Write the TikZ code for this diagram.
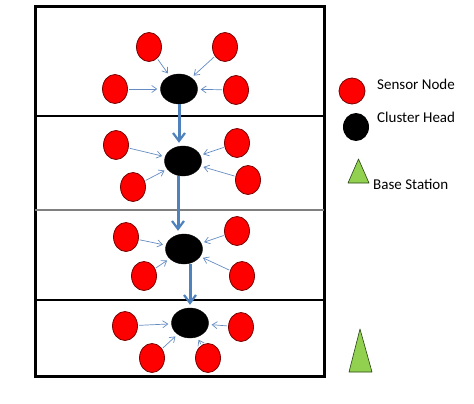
\documentclass[tikz,border=0pt]{standalone}
\usepackage{fontspec}
\setmainfont{Carlito}
\usetikzlibrary{shapes.geometric,arrows.meta}
\definecolor{thinblue}{RGB}{100,140,195}
\definecolor{thickblue}{RGB}{79,129,189}
\definecolor{sred}{RGB}{255,0,0}
\definecolor{sedge}{RGB}{120,0,0}
\definecolor{bsgreen}{RGB}{146,208,80}
\definecolor{bsedge}{RGB}{40,70,20}
\begin{document}
\begin{tikzpicture}[x=1pt,y=-1pt,
  sensor/.style={ellipse,fill=sred,draw=sedge,line width=0.8pt,minimum width=25pt,minimum height=29pt,inner sep=0pt},
  chead/.style={ellipse,fill=black,draw=black,minimum width=37pt,minimum height=30pt,inner sep=0pt},
  bstation/.style={fill=bsgreen,draw=bsedge,line width=0.6pt,line join=round},
  link/.style={draw=thinblue,line width=0.7pt,-{Straight Barb[length=5pt,width=7pt]},shorten >=3pt,shorten <=1pt},
  hop/.style={draw=thickblue,line width=3pt,-{Straight Barb[length=8pt,width=12pt,line width=2.2pt]},shorten >=3pt},
  divider/.style={line width=1.3pt},
  legtext/.style={anchor=west,font=\fontsize{15}{17}\selectfont,inner sep=0pt}]
\useasboundingbox (0,0) rectangle (474,404);
% frame
\draw[line width=3pt] (35,7) rectangle (324,376);
\draw[divider] (35,116) -- (324,116);
\draw[divider,draw=gray] (35,210) -- (324,210);
\draw[divider] (35,300) -- (324,300);
% cluster heads
\node[chead] (ch1) at (179,89) {};
\node[chead] (ch2) at (183,161) {};
\node[chead] (ch3) at (184,249) {};
\node[chead] (ch4) at (190,323) {};
% group 1
\node[sensor] (s1a) at (149,47) {};
\node[sensor] (s1b) at (225,47) {};
\node[sensor] (s1c) at (115,89) {};
\node[sensor] (s1d) at (236,90) {};
% group 2
\node[sensor] (s2a) at (116,145) {};
\node[sensor] (s2b) at (237,143) {};
\node[sensor] (s2c) at (133,187) {};
\node[sensor] (s2d) at (248,180) {};
% group 3
\node[sensor] (s3a) at (126,237) {};
\node[sensor] (s3b) at (237,231) {};
\node[sensor] (s3c) at (144,276) {};
\node[sensor] (s3d) at (242,276) {};
% group 4
\node[sensor] (s4a) at (125,326) {};
\node[sensor] (s4b) at (241,327) {};
\node[sensor] (s4c) at (152,358) {};
\node[sensor] (s4d) at (208,358) {};
% links
\foreach \g in {1,2,3,4}{
  \foreach \s in {a,b,c,d}{
    \draw[link] (s\g\s) -- (ch\g);
  }
}
% hops
\draw[hop] (ch1.south) -- (ch1.south |- ch2.north);
\draw[hop] ([xshift=-5pt]ch2.south) -- ([xshift=-5pt]ch2.south |- ch3.north);
\draw[hop] ([xshift=6pt]ch3.south) -- ([xshift=6pt]ch3.south |- ch4.north);
% base station
\draw[bstation] (360,329) -- (372,372) -- (349,372) -- cycle;
% legend
\node[ellipse,fill=sred,draw=sedge,line width=0.8pt,minimum width=26pt,minimum height=26pt,inner sep=0pt] (lsn) at (352,91) {};
\node[ellipse,fill=black,minimum width=26pt,minimum height=28pt,inner sep=0pt] (lch) at (356,127) {};
\draw[bstation] (358.5,159) -- (369,183) -- (348,183) -- cycle;
\node[legtext] (tsn) at (377,84) {Sensor Node};
\node[legtext] (tch) at (377,117) {Cluster Head};
\node[legtext] (tbs) at (373,184) {Base Station};
\end{tikzpicture}
\end{document}
